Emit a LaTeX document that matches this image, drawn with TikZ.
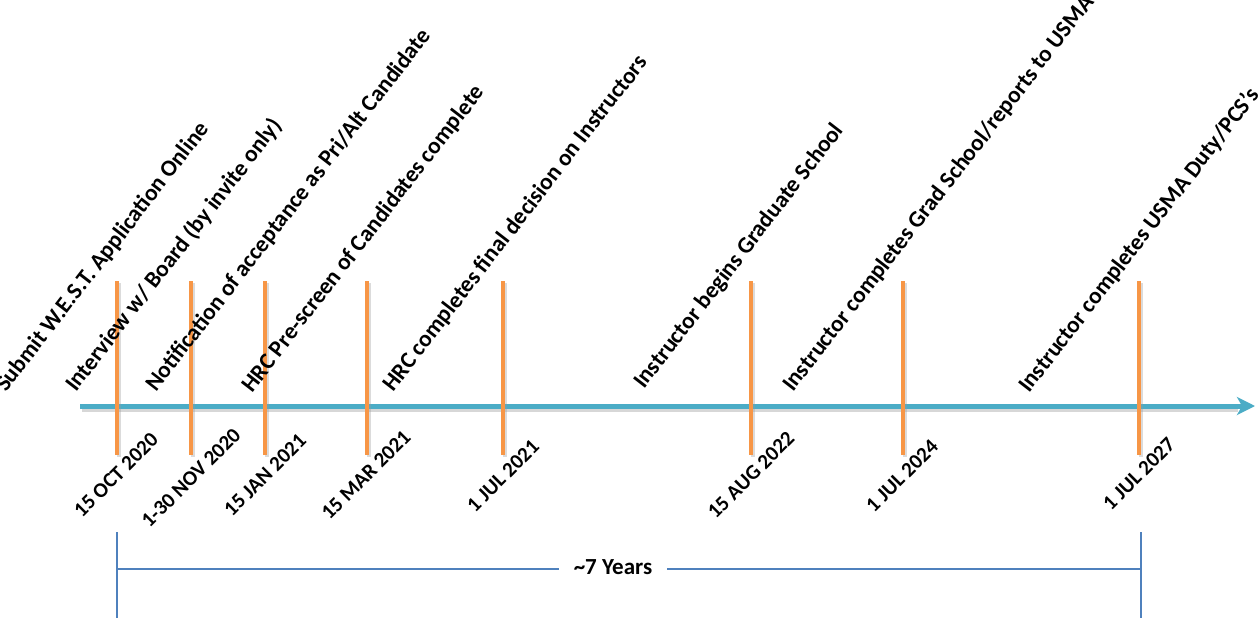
\documentclass[tikz,border=0pt]{standalone}
\usepackage{fontspec}
\setmainfont{Carlito}
\usetikzlibrary{arrows.meta}
\definecolor{lineteal}{HTML}{4BACC6}
\definecolor{tickorange}{HTML}{F79646}
\definecolor{spanblue}{HTML}{4F81BD}
\begin{document}
\begin{tikzpicture}[x=1pt,y=-1pt,
  toplabel/.style={font=\fontsize{23.3}{25}\selectfont\bfseries, rotate=52.3, anchor=base west, inner sep=0pt},
  datelabel/.style={font=\fontsize{21}{23}\selectfont\bfseries, rotate=45, anchor=center, inner sep=0pt},
  tickline/.style={draw=tickorange, line width=4pt},
  tickshadow/.style={draw=black!40, opacity=0.35, line width=4pt},
  spanline/.style={draw=spanblue, line width=2pt}
]
\useasboundingbox (0,0) rectangle (1259,619);

% timeline
\coordinate (tl0) at (80,406);
\coordinate (tl1) at (1255,406);
\coordinate (sh0) at (82,409);
\coordinate (sh1) at (1238,409);
\draw[black!45, opacity=0.35, line width=5pt] (sh0) -- (sh1);
\draw[lineteal, line width=5pt, -{Stealth[length=18pt,width=18pt,inset=5pt]}] (tl0) -- (tl1);

% ticks
\foreach \n/\x in {a/117,b/191,c/265,d/367,e/503,f/751,g/903,h/1139}{
  \coordinate (\n top) at (\x,281);
  \coordinate (\n bot) at (\x,455);
  \coordinate (\n stop) at (\x+2,283);
  \coordinate (\n sbot) at (\x+2,457);
  \draw[tickshadow] (\n stop) -- (\n sbot);
  \draw[tickline] (\n top) -- (\n bot);
}

% top labels
\node[toplabel] (la) at (6,393) {Submit W.E.S.T. Application Online};
\node[toplabel] (lb) at (76,393) {Interview w/ Board (by invite only)};
\node[toplabel] (lc) at (156,393) {Notification of acceptance as Pri/Alt Candidate};
\node[toplabel] (ld) at (252,394) {HRC Pre-screen of Candidates complete};
\node[toplabel] (le) at (393,393) {HRC completes final decision on Instructors};
\node[toplabel] (lf) at (644,390) {Instructor begins Graduate School};
\node[toplabel] (lg) at (793,393) {Instructor completes Grad School/reports to USMA};
\node[toplabel] (lh) at (1029,394) {Instructor completes USMA Duty/PCS’s};

% date labels
\node[datelabel] (da) at (116,475) {15 OCT 2020};
\node[datelabel] (db) at (191,478) {1-30 NOV 2020};
\node[datelabel] (dc) at (265,475) {15 JAN 2021};
\node[datelabel] (dd) at (366,475) {15 MAR 2021};
\node[datelabel] (de) at (503,476) {1 JUL 2021};
\node[datelabel] (df) at (751,475) {15 AUG 2022};
\node[datelabel] (dg) at (902,476) {1 JUL 2024};
\node[datelabel] (dh) at (1139,474) {1 JUL 2027};

% span bracket
\coordinate (sl0) at (117,532);
\coordinate (sl1) at (117,618);
\coordinate (sr0) at (1141,532);
\coordinate (sr1) at (1141,618);
\coordinate (sml) at (117,569);
\coordinate (smr) at (1141,569);
\node[font=\fontsize{23}{25}\selectfont\bfseries, inner xsep=15pt, inner ysep=0pt] (yrs) at (613,567) {\textasciitilde 7 Years};
\draw[spanline] (sl0) -- (sl1);
\draw[spanline] (sr0) -- (sr1);
\draw[spanline] (sml) -- (sml -| yrs.west);
\draw[spanline] (smr -| yrs.east) -- (smr);
\end{tikzpicture}
\end{document}
